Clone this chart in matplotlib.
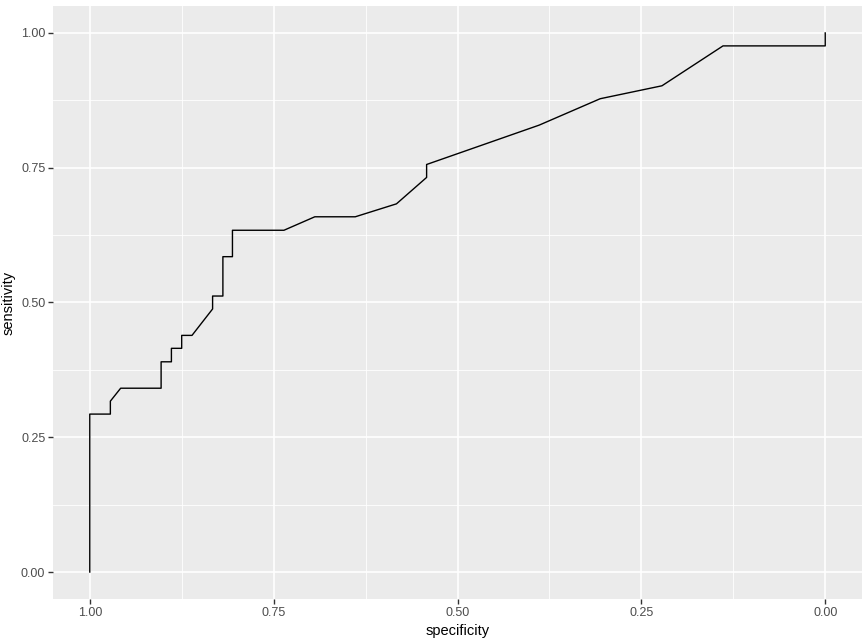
import matplotlib
matplotlib.use("Agg")
import matplotlib.pyplot as plt
from matplotlib.ticker import FixedLocator

plt.rcParams['font.family'] = ['Liberation Sans', 'DejaVu Sans']

specificity = [1.000, 1.000, 0.972, 0.972, 0.958, 0.903, 0.903, 0.889, 0.889,
               0.875, 0.875, 0.861, 0.833, 0.833, 0.819, 0.819, 0.806, 0.806,
               0.736, 0.694, 0.639, 0.583, 0.542, 0.542, 0.389, 0.306, 0.222,
               0.139, 0.000, 0.000]
sensitivity = [0.000, 0.293, 0.293, 0.317, 0.341, 0.341, 0.390, 0.390, 0.415,
               0.415, 0.439, 0.439, 0.488, 0.512, 0.512, 0.585, 0.585, 0.634,
               0.634, 0.659, 0.659, 0.683, 0.732, 0.756, 0.829, 0.878, 0.902,
               0.976, 0.976, 1.000]
tick_values = [0.00, 0.25, 0.50, 0.75, 1.00]
tick_labels = ["0.00", "0.25", "0.50", "0.75", "1.00"]
minor_values = [0.125, 0.375, 0.625, 0.875]

W, H = 866, 640
fig = plt.figure(figsize=(W / 100, H / 100), dpi=100)
left, right, top, bottom = 53, 862, 6, 599
ax = fig.add_axes([left / W, 1 - bottom / H, (right - left) / W, (bottom - top) / H])
ax.set_facecolor("#EBEBEB")
for s in ax.spines.values():
    s.set_visible(False)

ax.set_xlim(1.05, -0.05)
ax.set_ylim(-0.05, 1.05)

for v in minor_values:
    ax.axhline(v, color="white", lw=0.6, zorder=0)
    ax.axvline(v, color="white", lw=0.6, zorder=0)
for v in tick_values:
    ax.axhline(v, color="white", lw=1.2, zorder=0)
    ax.axvline(v, color="white", lw=1.2, zorder=0)

ax.plot(specificity, sensitivity, color="black", lw=1.0, zorder=3)

ax.xaxis.set_major_locator(FixedLocator(tick_values))
ax.yaxis.set_major_locator(FixedLocator(tick_values))
ax.set_xticklabels(tick_labels)
ax.set_yticklabels(tick_labels)
ax.tick_params(axis="both", colors="#333333", length=3.5, width=1.0,
               labelsize=9, labelcolor="#4D4D4D", pad=2)

ax.set_xlabel("specificity", fontsize=10.5, color="black", labelpad=3.5)
ax.set_ylabel("sensitivity", fontsize=10.5, color="black", labelpad=4)

fig.savefig("out.png", dpi=100, facecolor="white")
